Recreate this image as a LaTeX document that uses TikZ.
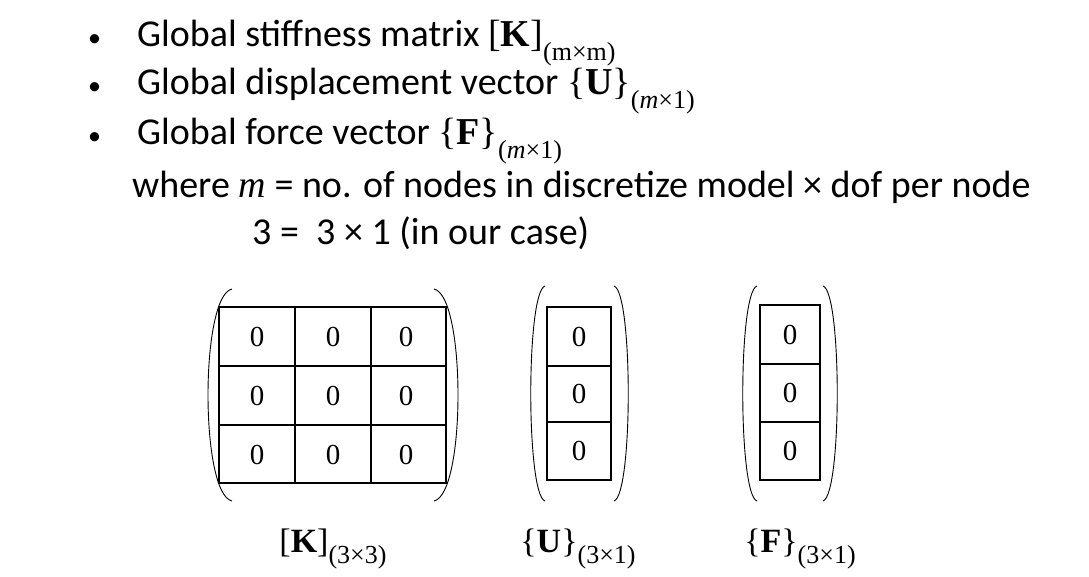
\documentclass[tikz,border=0pt]{standalone}
\usepackage{fontspec}
\setmainfont{Carlito}
\newfontfamily\sr{Liberation Serif}
\newcommand{\mysub}[1]{\raisebox{-0.35em}{\sr\fontsize{26}{30}\selectfont #1}}
\begin{document}
\begin{tikzpicture}[x=1pt,y=-1pt,
  txt/.style={anchor=base west,inner sep=0pt,font=\fontsize{38}{42}\selectfont},
  num/.style={font=\sr\fontsize{29}{32}\selectfont,inner sep=0pt},
  lab/.style={anchor=base,inner sep=0pt,font=\sr\fontsize{34}{40}\selectfont},
  cell/.style={draw,line width=1.6pt},
  par/.style={line width=0.9pt}]
\useasboundingbox (0,0) rectangle (1089,577);
% bullets
\node[txt] (b1) at (88,47) {\fontsize{26}{30}\selectfont\textbullet};
\node[txt] (b2) at (88,95) {\fontsize{26}{30}\selectfont\textbullet};
\node[txt] (b3) at (88,145) {\fontsize{26}{30}\selectfont\textbullet};
\node[txt] (t1) at (137,47) {Global stiffness matrix {\sr[\textbf{K}]}\mysub{(m×m)}};
\node[txt] (t2) at (137,95) {Global displacement vector {\sr\{\textbf{U}\}}\mysub{(\textit{m}×1)}};
\node[txt] (t3) at (137,145) {Global force vector {\sr\{\textbf{F}\}}\mysub{(\textit{m}×1)}};
\node[txt] (t4) at (132,198) {where {\sr\textit{m}} = no. of nodes in discretize model × dof per node};
\node[txt] (t5) at (252,245) {3 =\ \ 3 × 1 (in our case)};
% K matrix
\draw[cell] (219,307) rectangle (446,483);
\draw[cell] (295,307) -- (295,483) (371,307) -- (371,483) (219,366) -- (446,366) (219,425) -- (446,425);
\foreach \x in {257,333,406}{\foreach \y in {337,396,455}{\node[num] at (\x,\y) {0};}}
\draw[par] (232,289) .. controls (200,296) and (200,494) .. (232,501);
\draw[par] (434,289) .. controls (466,296) and (466,494) .. (434,501);
% U vector
\draw[cell] (547,307) rectangle (611,480);
\draw[cell] (547,366) -- (611,366) (547,422) -- (611,422);
\foreach \y in {337,394,451}{\node[num] at (579,\y) {0};}
\draw[par] (545,286) .. controls (526,292) and (526,495) .. (545,501);
\draw[par] (614,286) .. controls (633,292) and (633,495) .. (614,501);
% F vector
\draw[cell] (760,305) rectangle (820,480);
\draw[cell] (760,364) -- (820,364) (760,422) -- (820,422);
\foreach \y in {335,393,451}{\node[num] at (790,\y) {0};}
\draw[par] (757,286) .. controls (738,292) and (738,495) .. (757,501);
\draw[par] (823,286) .. controls (842,292) and (842,495) .. (823,501);
% labels
\node[lab] (kl) at (333,552) {[\textbf{K}]\mysub{(3×3)}};
\node[lab] (ul) at (578,552) {\{\textbf{U}\}\mysub{(3×1)}};
\node[lab] (fl) at (800,552) {\{\textbf{F}\}\mysub{(3×1)}};
\end{tikzpicture}
\end{document}
